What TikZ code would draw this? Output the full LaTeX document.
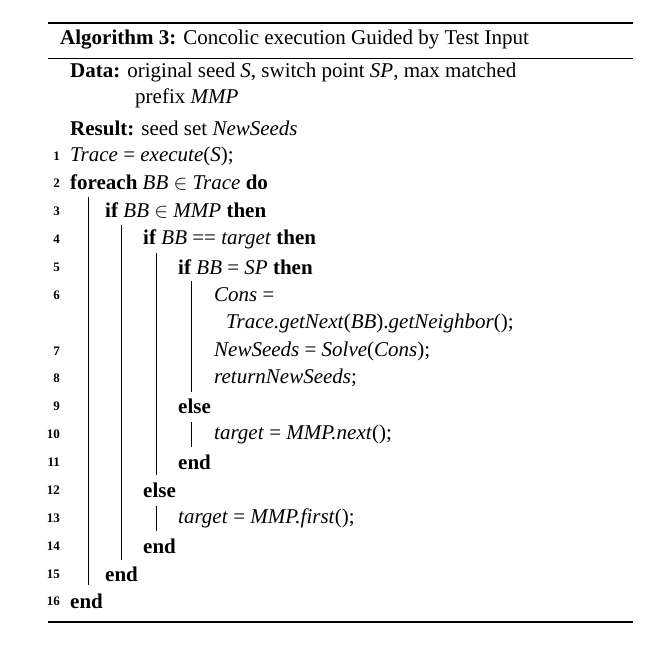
\documentclass[tikz,border=0pt]{standalone}
\usepackage{fontspec}
\setmainfont{Liberation Serif}
\newcommand{\ii}[1]{\textit{#1}}
\begin{document}
\begin{tikzpicture}[x=1pt,y=-1pt,
    txt/.style={anchor=west,inner sep=0pt,font=\fontsize{21}{25}\selectfont},
    num/.style={anchor=east,inner sep=0pt,font=\fontsize{13}{15}\selectfont\bfseries},
    bar/.style={line width=0.7pt}]
\useasboundingbox (0,0) rectangle (648,646);
% rules
\draw[line width=1.2pt] (48,23) -- (633,23);
\draw[line width=0.6pt] (48,58) -- (633,58);
\draw[line width=1.2pt] (48,622) -- (633,622);
\node[txt] (title) at (60,40) {\textbf{Algorithm 3:} Concolic execution Guided by Test Input};
\node[txt] (data) at (70,72) {\textbf{Data:} original seed \ii{S}, switch point \ii{SP}, max matched};
\node[txt] (data2) at (135,98) {prefix \ii{MMP}};
\node[txt] (result) at (70,128) {\textbf{Result:} seed set \ii{NewSeeds}};
% numbered lines
\foreach \n/\y in {1/156,2/183,3/211,4/239,5/267,6/295,7/351,8/378,9/406,10/434,11/462,12/490,13/518,14/546,15/574,16/601}
  \node[num] (n\n) at (60,\y) {\n};
\node[txt] (l1) at (70,156) {\ii{Trace} = \ii{execute}(\ii{S});};
\node[txt] (l2) at (70,183) {\textbf{foreach} \ii{BB} $\in$ \ii{Trace} \textbf{do}};
\node[txt] (l3) at (105,211) {\textbf{if} \ii{BB} $\in$ \ii{MMP} \textbf{then}};
\node[txt] (l4) at (143,239) {\textbf{if} \ii{BB} == \ii{target} \textbf{then}};
\node[txt] (l5) at (178,267) {\textbf{if} \ii{BB} = \ii{SP} \textbf{then}};
\node[txt] (l6) at (214,295) {\ii{Cons} =};
\node[txt] (l6b) at (226,323) {\ii{Trace.getNext}(\ii{BB}).\ii{getNeighbor}();};
\node[txt] (l7) at (214,351) {\ii{NewSeeds} = \ii{Solve}(\ii{Cons});};
\node[txt] (l8) at (214,378) {\ii{returnNewSeeds};};
\node[txt] (l9) at (178,406) {\textbf{else}};
\node[txt] (l10) at (214,434) {\ii{target} = \ii{MMP.next}();};
\node[txt] (l11) at (178,462) {\textbf{end}};
\node[txt] (l12) at (143,490) {\textbf{else}};
\node[txt] (l13) at (178,518) {\ii{target} = \ii{MMP.first}();};
\node[txt] (l14) at (143,546) {\textbf{end}};
\node[txt] (l15) at (105,574) {\textbf{end}};
\node[txt] (l16) at (70,601) {\textbf{end}};
% block bars
\draw[bar] (88,197) -- (88,585);
\draw[bar] (121,225) -- (121,560);
\draw[bar] (156,253) -- (156,475);
\draw[bar] (191,281) -- (191,392);
\draw[bar] (191,422) -- (191,447);
\draw[bar] (156,506) -- (156,531);
\end{tikzpicture}
\end{document}
